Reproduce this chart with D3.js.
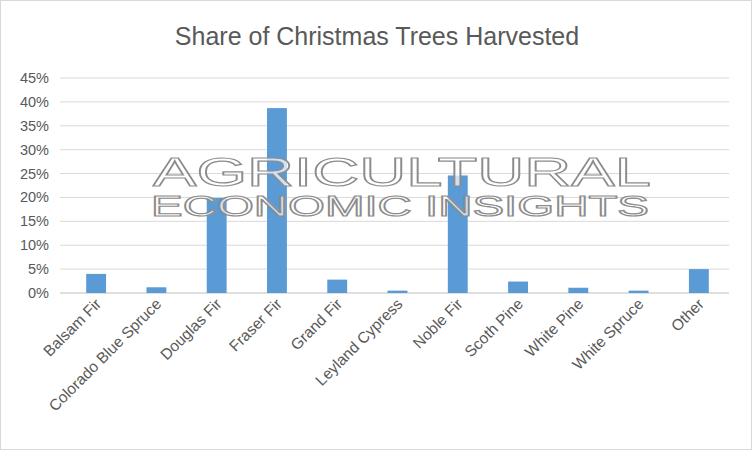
<!DOCTYPE html><html><head><meta charset="utf-8">
<script src="https://cdn.jsdelivr.net/npm/d3@7"></script>
<style>body{margin:0;background:#fff}text{font-family:"Liberation Sans",Arial,sans-serif}</style></head><body>
<svg id="c" width="752" height="450"></svg>
<script>
const categories=["Balsam Fir","Colorado Blue Spruce","Douglas Fir","Fraser Fir","Grand Fir","Leyland Cypress","Noble Fir","Scoth Pine","White Pine","White Spruce","Other"];
const values=[0.04,0.012,0.199,0.387,0.028,0.005,0.246,0.024,0.011,0.005,0.05];
const yTicks=[0,0.05,0.1,0.15,0.2,0.25,0.3,0.35,0.4,0.45];
const svg=d3.select("#c");
svg.append("rect").attr("x",0.5).attr("y",0.5).attr("width",751).attr("height",449).attr("fill","#fff").attr("stroke","#d9d9d9");
const x=d3.scaleBand().domain(categories).range([66,729]).paddingInner(0.67).paddingOuter(0.335);
const y=d3.scaleLinear().domain([0,0.45]).range([293,78]);
svg.append("text").attr("x",377).attr("y",45).attr("text-anchor","middle").attr("font-size",25).attr("fill","#595959").text("Share of Christmas Trees Harvested");
const g=svg.append("g");
yTicks.forEach(t=>{
 g.append("line").attr("x1",60).attr("x2",729).attr("y1",y(t)).attr("y2",y(t)).attr("stroke",t===0?"#bfbfbf":"#d9d9d9");
 g.append("text").attr("x",49).attr("y",y(t)+5).attr("text-anchor","end").attr("font-size",14.5).attr("fill","#595959").text(Math.round(t*100)+"%");
});
g.selectAll("rect.b").data(values).join("rect").attr("class","b")
 .attr("x",(d,i)=>x(categories[i])).attr("width",x.bandwidth())
 .attr("y",d=>y(d)).attr("height",d=>y(0)-y(d)).attr("fill","#5b9bd5");
categories.forEach(c=>{
 const cx=x(c)+x.bandwidth()/2;
 g.append("text").attr("transform",`translate(${cx+6},${305}) rotate(-45)`).attr("text-anchor","end").attr("font-size",15.5).attr("fill","#595959").text(c);
});
const wm=svg.append("g").attr("font-family","'DejaVu Sans Mono',monospace").attr("fill","rgba(255,255,255,0.7)").attr("stroke","#8c8c8c").attr("stroke-width",1.2).attr("text-anchor","middle");
wm.append("text").attr("x",402).attr("y",186).attr("font-size",40).attr("textLength",498).attr("lengthAdjust","spacingAndGlyphs").text("AGRICULTURAL");
wm.append("text").attr("x",400).attr("y",216).attr("font-size",29).attr("textLength",498).attr("lengthAdjust","spacingAndGlyphs").text("ECONOMIC INSIGHTS");
</script></body></html>
